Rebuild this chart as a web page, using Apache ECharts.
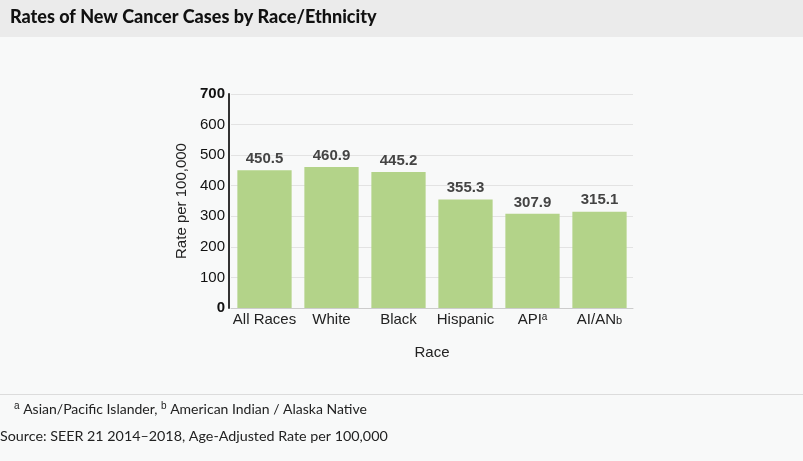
<!DOCTYPE html>
<html>
<head>
<meta charset="utf-8">
<script src="https://cdn.jsdelivr.net/npm/echarts@6/dist/echarts.min.js"></script>
<style>
  html, body { margin: 0; padding: 0; background: #f8f9f9; }
  #chart { width: 803px; height: 461px; }
</style>
</head>
<body>
<div id="chart"></div>
<script>
var races = ['All Races', 'White', 'Black', 'Hispanic', 'API', 'AI/AN'];
var rates = [450.5, 460.9, 445.2, 355.3, 307.9, 315.1];
var yTicks = [0, 100, 200, 300, 400, 500, 600, 700];

var myChart = echarts.init(document.getElementById('chart'));

var option = {
  backgroundColor: '#f8f9f9',
  animation: false,
  graphic: [
    { type: 'rect', left: 0, top: 0, shape: { width: 803, height: 37 }, style: { fill: '#ebebeb' } },
    { type: 'text', left: 10, top: 8, style: { text: 'Rates of New Cancer Cases by Race/Ethnicity', font: '900 18px Lato', fill: '#111' } },
    { type: 'rect', left: 0, top: 394, shape: { width: 803, height: 1 }, style: { fill: '#dcdcdc' } },
    {
      type: 'text', left: 14, top: 401,
      style: {
        text: '{s|a} Asian/Pacific Islander, {s|b} American Indian / Alaska Native',
        font: '14px Lato', fill: '#222',
        rich: { s: { fontSize: 10, verticalAlign: 'top', padding: [0, 0, 6, 0] } }
      }
    },
    { type: 'text', left: 0, top: 429, style: { text: 'Source: SEER 21 2014\u20132018, Age-Adjusted Rate per 100,000', font: '14.3px Lato', fill: '#222' } }
  ],
  grid: { left: 231, right: 170, top: 94, bottom: 153 },
  xAxis: {
    type: 'category',
    data: races,
    name: 'Race',
    nameLocation: 'middle',
    nameGap: 37,
    nameTextStyle: { fontSize: 15, color: '#222', fontFamily: 'Liberation Sans' },
    axisLine: { lineStyle: { color: '#ccc' } },
    axisTick: { show: false },
    axisLabel: {
      interval: 0,
      fontSize: 15, color: '#222', fontFamily: 'Liberation Sans', margin: 4,
      formatter: function (v) {
        if (v === 'API') return 'API{sup|a}';
        if (v === 'AI/AN') return 'AI/AN{sub|b}';
        return v;
      },
      rich: {
        sup: { fontSize: 10, verticalAlign: 'top', padding: [0, 0, 6, 0], color: '#222' },
        sub: { fontSize: 11, color: '#222', padding: [3, 0, 0, 0] }
      }
    }
  },
  yAxis: {
    type: 'value',
    min: 0, max: 700, interval: 100,
    offset: 2,
    name: 'Rate per 100,000',
    nameLocation: 'middle',
    nameGap: 40,
    nameTextStyle: { fontSize: 15, color: '#222', fontFamily: 'Liberation Sans' },
    axisLine: { show: true, lineStyle: { color: '#333', width: 2 } },
    axisTick: { show: false },
    splitLine: { lineStyle: { color: '#e3e3e3' } },
    axisLabel: {
      fontSize: 15, color: '#111', fontFamily: 'Liberation Sans', margin: 4,
      formatter: function (v) {
        return (v === yTicks[0] || v === yTicks[yTicks.length - 1]) ? '{b|' + v + '}' : String(v);
      },
      rich: { b: { fontSize: 15, fontWeight: 'bold', color: '#111', fontFamily: 'Liberation Sans' } }
    }
  },
  series: [{
    type: 'bar',
    data: rates,
    barCategoryGap: '19%',
    itemStyle: { color: '#b3d389' },
    label: {
      show: true, position: 'top', distance: 4,
      fontSize: 15, fontWeight: 'bold', color: '#444', fontFamily: 'Liberation Sans'
    }
  }]
};

myChart.setOption(option);

window.onresize = function () { myChart.resize(); };
</script>
</body>
</html>
